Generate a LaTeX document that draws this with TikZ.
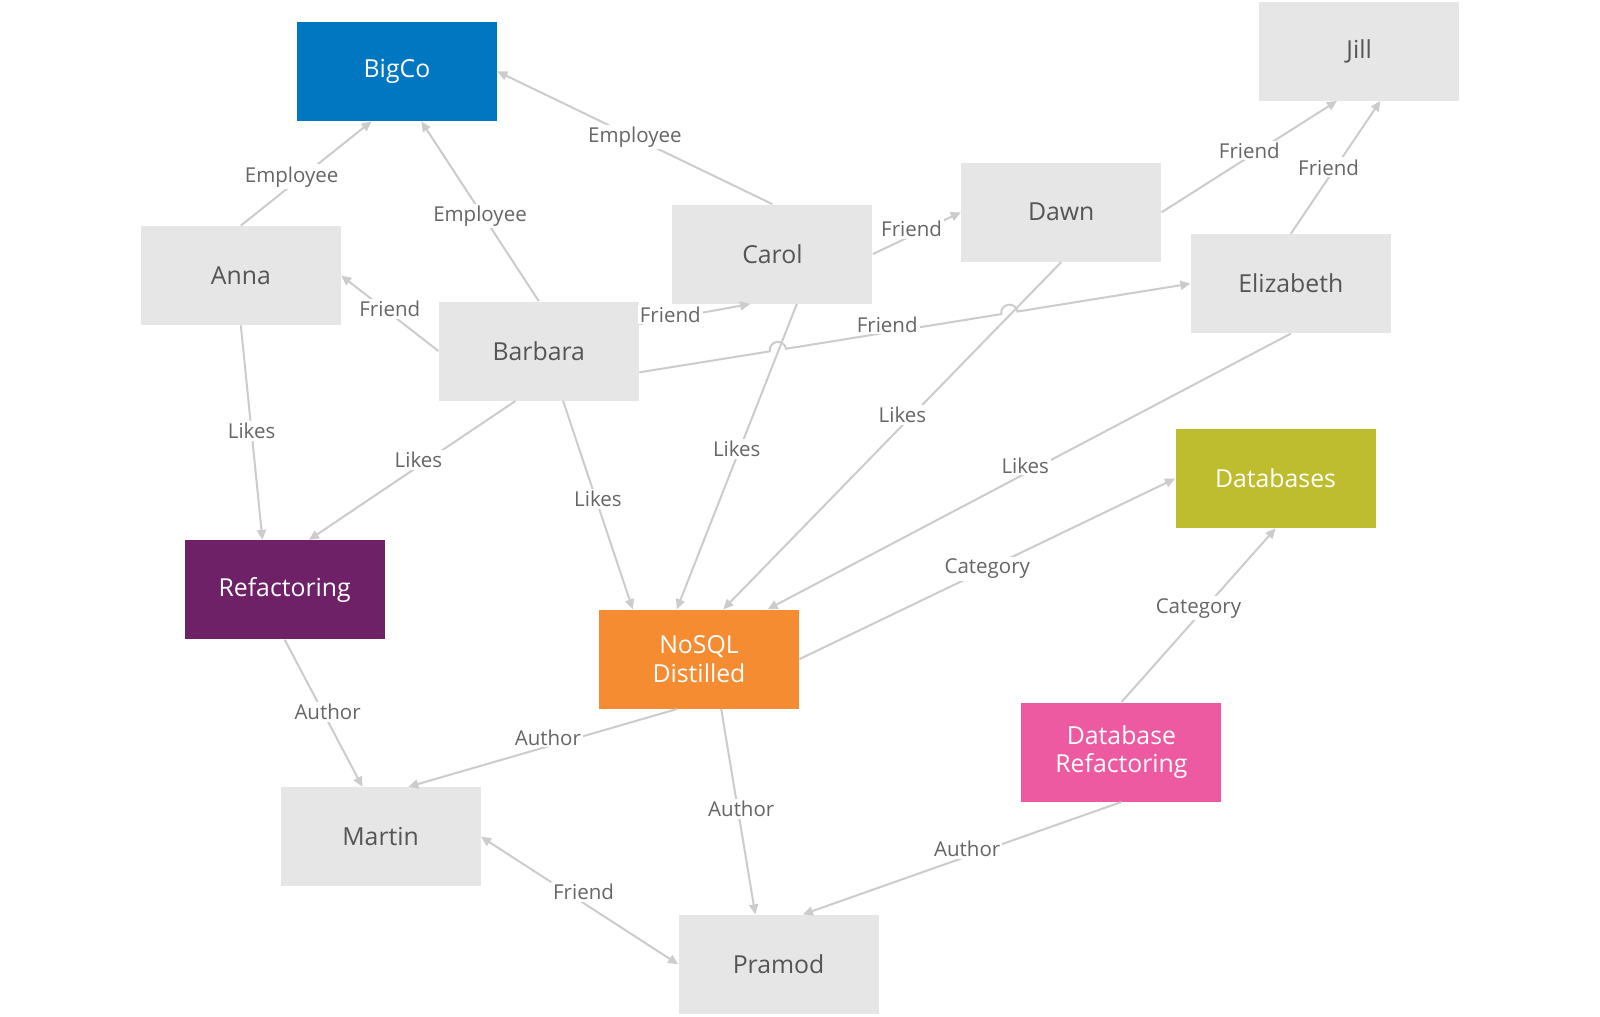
\documentclass[tikz,border=0pt]{standalone}
\usepackage{fontspec}
\setmainfont{Open Sans}
\usetikzlibrary{arrows.meta,calc}

\definecolor{boxgray}{HTML}{E6E6E6}
\definecolor{textgray}{HTML}{555555}
\definecolor{labelgray}{HTML}{666666}
\definecolor{linegray}{HTML}{CCCCCC}
\definecolor{bigcoblue}{HTML}{0077C0}
\definecolor{dbolive}{HTML}{BDBD2F}
\definecolor{refpurple}{HTML}{6E2166}
\definecolor{nosqlorange}{HTML}{F58C32}
\definecolor{dbrefpink}{HTML}{EE5AA2}

\begin{document}
\begin{tikzpicture}
	[x=0.5102pt,y=-0.5102pt,
	thing/.style={rectangle,fill=boxgray,minimum width=100pt,minimum height=49.5pt,inner sep=0pt,
		text=textgray,align=center,font=\fontsize{12.4}{14.3}\selectfont},
	book/.style={thing,text=white},
	rel/.style={draw=linegray,line width=1pt,-{Triangle[length=5pt,width=4.5pt]}},
	relboth/.style={rel,{Triangle[length=5pt,width=4.5pt]}-{Triangle[length=5pt,width=4.5pt]}},
	lbl/.style={fill=white,inner sep=1pt,yshift=3pt,text=labelgray,font=\fontsize{10.25}{12}\selectfont},
	]
	\fill[white] (0,0) rectangle (1568,996);
	% people
	\node[thing] (jill) at (1332,50) {Jill};
	\node[thing] (dawn) at (1040,208) {Dawn};
	\node[thing] (carol) at (757,249) {Carol};
	\node[thing] (anna) at (236,270) {Anna};
	\node[thing] (barbara) at (528,344) {Barbara};
	\node[thing] (eliz) at (1265,278) {Elizabeth};
	\node[thing] (martin) at (373,820) {Martin};
	\node[thing] (pramod) at (763,945) {Pramod};
	% company, books, topics
	\node[book,fill=bigcoblue] (bigco) at (389,70) {BigCo};
	\node[book,fill=dbolive] (dbs) at (1250,469) {Databases};
	\node[book,fill=refpurple] (refact) at (279,578) {Refactoring};
	\node[book,fill=nosqlorange] (nosql) at (685,646) {NoSQL\\Distilled};
	\node[book,fill=dbrefpink] (dbref) at (1099,737) {Database\\Refactoring};
	% employee
	\draw[rel] (carol.north) -- node[lbl,yshift=-2.5pt] {Employee} (bigco.east);
	\draw[rel] (anna.north) -- node[lbl,pos=0.45,xshift=-4pt,yshift=-2pt] {Employee} (bigco.243);
	\draw[rel] (barbara.north) -- node[lbl,yshift=-5.5pt] {Employee} (bigco.296);
	% friend
	\draw[rel] (barbara.west) -- node[lbl,yshift=-1pt] {Friend} (anna.east);
	\draw[rel] (barbara.15) -- node[lbl,pos=0.28,yshift=-1pt] {Friend} (carol.246);
	\draw[rel] (barbara.-12) -- ($(barbara.-12)!0.237!(eliz.west)$)
		arc[start angle=189,end angle=9,radius=4.1pt]
		-- node[lbl,pos=0.47,yshift=1pt] {Friend} ($(barbara.-12)!0.657!(eliz.west)$)
		arc[start angle=189,end angle=9,radius=4.1pt]
		-- (eliz.west);
	\draw[rel] (carol.east) -- node[lbl,pos=0.44,yshift=0.5pt] {Friend} (dawn.west);
	\draw[rel] (dawn.east) -- node[lbl] {Friend} (jill.246);
	\draw[rel] (eliz.north) -- node[lbl,xshift=-3.5pt,yshift=-3pt] {Friend} (jill.293);
	\draw[relboth] (martin.east) -- node[lbl,pos=0.52,yshift=2.5pt] {Friend} (pramod.west);
	% likes
	\draw[rel] (anna.south) -- node[lbl,yshift=-2pt] {Likes} (refact.114);
	\draw[rel] (barbara.245) -- node[lbl,pos=0.47] {Likes} (refact.64);
	\draw[rel] (barbara.296) -- node[lbl] {Likes} (nosql.143);
	\draw[rel] (carol.296) -- node[lbl,yshift=1pt] {Likes} (nosql.114);
	\draw[rel] (dawn.south) -- node[lbl,pos=0.47,yshift=2pt] {Likes} (nosql.64);
	\draw[rel] (eliz.south) -- node[lbl,xshift=-2pt] {Likes} (nosql.36);
	% category
	\draw[rel] (nosql.east) -- node[lbl,yshift=-3pt] {Category} (dbs.west);
	\draw[rel] (dbref.north) -- node[lbl,yshift=0.5pt] {Category} (dbs.south);
	% author
	\draw[rel] (refact.south) -- node[lbl,xshift=2pt,yshift=-2.5pt] {Author} (martin.110);
	\draw[rel] (nosql.246) -- node[lbl,pos=0.48,yshift=1.5pt] {Author} (martin.61);
	\draw[rel] (nosql.294) -- node[lbl,xshift=1.5pt,yshift=-1.5pt] {Author} (pramod.115);
	\draw[rel] (dbref.south) -- node[lbl,xshift=2.5pt,yshift=1.5pt] {Author} (pramod.64);
\end{tikzpicture}
\end{document}
